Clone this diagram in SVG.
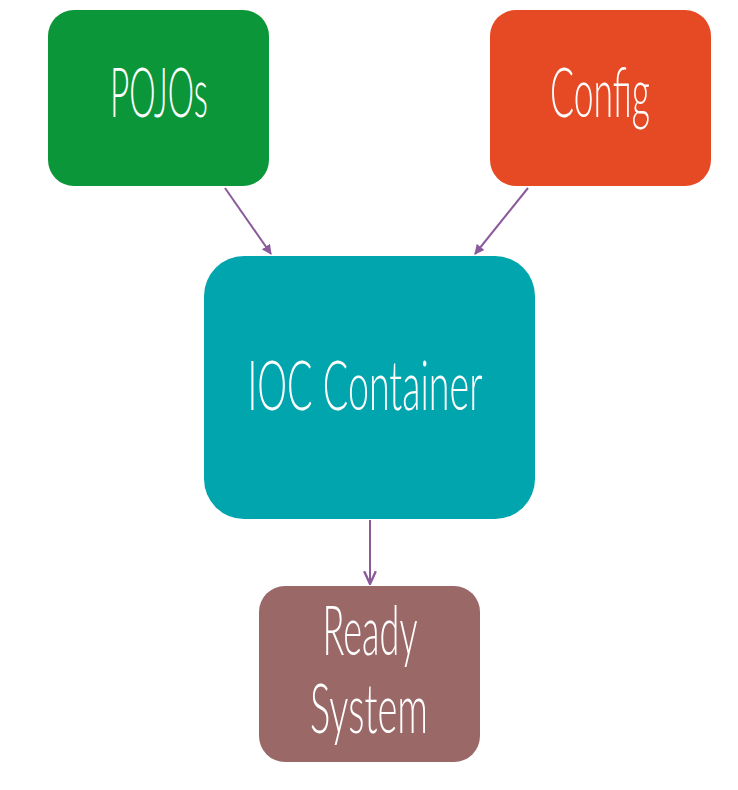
<svg xmlns="http://www.w3.org/2000/svg" width="738" height="790" viewBox="0 0 738 790">
<style>
.lbl{font-family:"Lato","Liberation Sans","DejaVu Sans",sans-serif;font-weight:300;font-size:68px;fill:#ffffff;text-anchor:middle}
.con{stroke:#8a5a9a;stroke-width:2;fill:none}
</style>
<defs>
<marker id="ah" viewBox="0 0 10 10" refX="9" refY="5" markerWidth="10" markerHeight="10" orient="auto" markerUnits="userSpaceOnUse">
<path d="M0,0 L10,5 L0,10 Z" fill="#8a5a9a"/>
</marker>
<marker id="av" viewBox="0 0 12 10" refX="11" refY="5" markerWidth="14" markerHeight="14" orient="auto" markerUnits="userSpaceOnUse">
<path d="M0,0 L11,5 L0,10" fill="none" stroke="#8a5a9a" stroke-width="2"/>
</marker>
</defs>
<rect width="738" height="790" fill="#ffffff"/>
<g id="connectors">
<line class="con" x1="225" y1="188" x2="271" y2="254" marker-end="url(#ah)"/>
<line class="con" x1="528" y1="188" x2="475" y2="254" marker-end="url(#ah)"/>
<line class="con" x1="370" y1="520" x2="370" y2="584" marker-end="url(#av)"/>
</g>
<g id="pojos">
<rect x="48" y="10" width="221" height="176" rx="26" fill="#0b9639"/>
<text class="lbl" x="159" y="117" textLength="98" lengthAdjust="spacingAndGlyphs">POJOs</text>
</g>
<g id="config">
<rect x="490" y="10" width="221" height="176" rx="26" fill="#e64a24"/>
<text class="lbl" x="600" y="117" textLength="100" lengthAdjust="spacingAndGlyphs">Config</text>
</g>
<g id="ioc">
<rect x="204" y="256" width="331" height="263" rx="40" fill="#00a5ad"/>
<text class="lbl" x="365" y="410" textLength="235" lengthAdjust="spacingAndGlyphs">IOC Container</text>
</g>
<g id="ready">
<rect x="259" y="586" width="221" height="176" rx="26" fill="#9b6868"/>
<text class="lbl" x="370" y="655" textLength="95" lengthAdjust="spacingAndGlyphs">Ready</text>
<text class="lbl" x="369" y="733" textLength="118" lengthAdjust="spacingAndGlyphs">System</text>
</g>
</svg>
